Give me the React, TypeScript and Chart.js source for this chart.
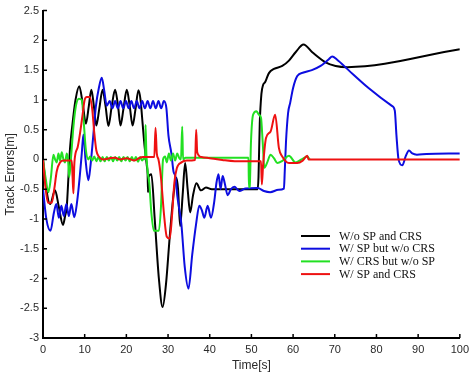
import React, { useEffect, useRef } from "react";
import { Chart, registerables } from "chart.js";

Chart.register(...registerables);

const seriesLabels = ["W/o SP and CRS", "W/ SP but w/o CRS", "W/ CRS but w/o SP", "W/ SP and CRS"];
const seriesColors = ["#000000", "#0d0de0", "#22e022", "#ee1111"];

const xTickValues = [0, 10, 20, 30, 40, 50, 60, 70, 80, 90, 100];
const yTickValues = [-3, -2.5, -2, -1.5, -1, -0.5, 0, 0.5, 1, 1.5, 2, 2.5];

const blackT = [0, 0.8, 1.7, 2.9, 3.8, 4.8, 5.3, 5.7, 6.1, 6.5, 7, 7.8, 8.7, 9.5, 10.3, 11.0, 11.6, 12.2, 12.8, 13.5, 14.3, 15, 15.7, 16.5, 17.3, 18, 18.6, 19.3, 20.1, 20.8, 21.5, 22.2, 22.9, 23.4, 23.9, 24.4, 24.9, 25.1, 25.2, 25.3, 26, 26.8, 27.8, 28.7, 29.5, 30.4, 31.3, 32, 32.4, 32.9, 33.5, 34.1, 34.7, 35.3, 36, 36.8, 37.9, 39.1, 40.5, 42, 51.5, 51.7, 52, 52.4, 52.8, 53.3, 53.6, 54.2, 55.4, 57.4, 59, 60.6, 62.5, 64.6, 67.8, 70.2, 73, 100];
const blackY = [0, -0.5, -0.75, -0.52, -0.8, -1.1, -0.95, -0.8, -0.3, 0.2, 0.55, 1.0, 1.23, 0.95, 0.6, 0.9, 1.17, 0.9, 0.57, 0.85, 1.17, 0.9, 0.56, 0.9, 1.17, 0.9, 0.57, 0.85, 1.17, 0.9, 0.57, 0.85, 1.16, 1.0, 0.6, 0.2, -0.1, -0.25, -0.55, -0.3, -0.25, -1.0, -2.0, -2.48, -2.1, -1.3, -0.6, -0.31, -0.5, -1.12, -0.6, -0.06, -0.5, -0.89, -0.6, -0.4, -0.52, -0.47, -0.5, -0.5, -0.5, -0.3, 0.6, 1.1, 1.25, 1.3, 1.35, 1.45, 1.52, 1.57, 1.66, 1.8, 1.93, 1.8, 1.63, 1.57, 1.55, 1.85];

const blueT = [0, 0.8, 1.8, 2.6, 3.2, 3.8, 4.4, 5, 5.6, 6.2, 6.8, 7.5, 8.2, 8.8, 9.3, 9.7, 10.2, 10.9, 11.4, 12, 12.7, 13.4, 14.1, 14.7, 15.3, 16.0, 16.65, 17.3, 17.95, 18.6, 19.25, 19.9, 20.55, 21.2, 21.85, 22.5, 23.15, 23.8, 24.45, 25.1, 25.75, 26.4, 27.05, 27.7, 28.35, 29.0, 29.6, 30.1, 30.8, 31.3, 31.8, 32.2, 33.2, 34, 34.9, 35.8, 36.7, 37.5, 38.1, 38.7, 39.5, 40.3, 41.1, 41.6, 42.1, 42.6, 43.1, 43.6, 44.3, 45.1, 45.9, 47.1, 48.5, 51.5, 53, 54.5, 56.5, 57.8, 58, 58.3, 58.8, 59.3, 60, 61, 62.5, 64.5, 66.6, 68.5, 69.4, 70.5, 73.3, 78.1, 83.7, 84.4, 84.8, 85.3, 86.2, 87, 87.8, 88.6, 89.7, 92, 100];
const blueY = [-0.5, -1.0, -1.2, -0.9, -0.75, -0.98, -0.78, -0.95, -0.75, -0.95, -0.75, -0.97, -0.7, -0.3, 0.1, 0.42, 0.0, -0.35, -0.1, 0.35, 0.9, 1.2, 1.37, 1.15, 0.9, 0.98, 0.86, 0.98, 0.86, 0.98, 0.86, 0.98, 0.86, 0.98, 0.86, 0.98, 0.86, 0.98, 0.86, 0.98, 0.86, 0.98, 0.86, 0.98, 0.86, 0.98, 0.86, 0.4, 0.1, -0.2, -0.3, -0.6, -1.09, -1.8, -2.17, -1.6, -1.1, -0.78, -0.85, -0.98, -0.78, -0.98, -0.7, -0.4, -0.25, -0.5, -0.28, -0.4, -0.6, -0.5, -0.46, -0.53, -0.49, -0.48, -0.53, -0.55, -0.51, -0.49, -0.2, 0.3, 0.78, 0.95, 1.2, 1.4, 1.46, 1.5, 1.57, 1.68, 1.73, 1.68, 1.5, 1.2, 0.9, 0.82, 0.4, 0.0, -0.1, 0.05, 0.15, 0.1, 0.08, 0.09, 0.1];

const greenT = [0, 0.6, 1.3, 1.9, 2.5, 2.9, 3.3, 3.7, 4.1, 4.5, 4.9, 5.3, 5.7, 6.0, 6.3, 6.8, 7.3, 7.9, 8.6, 9.3, 9.8, 10.3, 10.9, 11.3, 11.8, 12.3, 12.8, 13.3, 13.8, 14.3, 14.8, 15.3, 15.8, 16.3, 16.8, 17.3, 17.8, 18.3, 18.8, 19.3, 19.8, 20.3, 20.8, 21.3, 21.8, 22.3, 22.8, 23.3, 23.8, 24.3, 24.5, 24.6, 24.8, 25.1, 25.5, 26, 26.6, 27.8, 28.3, 28.8, 29.3, 29.7, 30.2, 30.7, 31.2, 31.7, 32.2, 32.7, 33.1, 33.4, 33.6, 34.2, 36, 49.3, 49.4, 49.6, 49.9, 50.4, 51.2, 51.8, 52.3, 52.7, 53.1, 53.8, 54.6, 55.4, 56.2, 57.5, 59, 60.6, 62, 63.4, 64];
const greenY = [0, -0.3, -0.55, -0.3, 0.08, 0.0, -0.05, 0.1, -0.02, 0.12, 0.0, -0.05, 0.1, 0.0, -0.3, 0.1, 0.55, 0.9, 1.02, 1.0, 0.6, 0.15, 0.0, 0.05, -0.02, 0.05, -0.03, 0.04, -0.03, 0.04, -0.03, 0.04, -0.02, 0.04, -0.03, 0.04, -0.02, 0.04, -0.03, 0.04, -0.02, 0.04, -0.03, 0.04, -0.02, 0.04, -0.04, 0.04, -0.02, 0.03, 0.0, 0.58, 0.1, -0.2, -0.4, -0.9, -1.2, -1.2, -0.8, 0.0, 0.05, -0.05, 0.1, -0.02, 0.1, -0.02, 0.1, 0.02, 0.0, 0.55, 0.0, 0.03, 0.03, 0.03, -0.47, -0.45, 0.3, 0.75, 0.81, 0.75, 0.7, 0.3, -0.14, -0.05, 0.08, 0.02, -0.06, -0.02, 0.06, -0.05, 0.0, 0.05, 0.0];

const redT = [0, 0.5, 1.2, 2.1, 2.7, 3.3, 4.1, 5, 6.9, 7.1, 7.3, 7.5, 7.8, 8.3, 8.8, 9.4, 10.0, 10.5, 11.2, 11.8, 12.3, 12.8, 13.4, 14.5, 16, 17.3, 18.5, 20, 22, 23, 24, 26.7, 27.0, 27.3, 27.7, 28.3, 29.0, 29.7, 30.4, 31, 31.5, 32.1, 33.2, 34.5, 36.5, 36.75, 37.0, 38, 40, 43, 46, 52.3, 52.5, 52.8, 53.5, 54.6, 55.7, 56.6, 57.4, 59, 61, 62.3, 63.4, 63.7, 100];
const redY = [0, -0.4, -0.73, -0.73, -0.5, -0.2, -0.05, -0.02, -0.02, -0.3, -0.57, -0.1, 0.1, 0.2, 0.4, 0.7, 1.0, 1.05, 1.05, 0.85, 0.45, 0.15, 0.05, 0.0, 0.02, 0.03, 0.0, 0.02, -0.02, 0.02, 0.04, 0.04, 0.53, 0.1, 0.0, -0.3, -0.9, -1.3, -1.33, -0.9, -0.4, -0.15, -0.05, -0.02, -0.01, 0.5, 0.12, 0.04, 0.02, -0.01, -0.03, -0.03, -0.42, -0.1, 0.36, 0.47, 0.75, 0.19, 0.05, -0.06, -0.06, -0.02, 0.06, 0.0, 0.0];

const seriesT = [blackT, blueT, greenT, redT];
const seriesY = [blackY, blueY, greenY, redY];

const tickFont = { family: 'Arial, "Liberation Sans", sans-serif', size: 11 };
const titleFont = { family: 'Arial, "Liberation Sans", sans-serif', size: 12 };

const inwardTicks = {
  id: "inwardTicks",
  afterDraw(chart: any) {
    const ctx = chart.ctx;
    const xs = chart.scales.x;
    const ys = chart.scales.y;
    const area = chart.chartArea;
    ctx.save();
    ctx.strokeStyle = "#000";
    ctx.lineWidth = 1.5;
    ctx.beginPath();
    for (const v of xTickValues) {
      const px = xs.getPixelForValue(v);
      ctx.moveTo(px, area.bottom);
      ctx.lineTo(px, area.bottom - 4);
    }
    for (const v of yTickValues) {
      const py = ys.getPixelForValue(v);
      ctx.moveTo(area.left, py);
      ctx.lineTo(area.left + 4, py);
    }
    ctx.stroke();
    ctx.restore();
  },
};

const customLegend = {
  id: "customLegend",
  afterDraw(chart: any) {
    const ctx = chart.ctx;
    const x0 = 301;
    const x1 = 330;
    const tx = 339;
    const y0 = 236;
    const dy = 12.7;
    ctx.save();
    ctx.font = '12px "Liberation Serif", "Times New Roman", serif';
    ctx.textBaseline = "middle";
    ctx.textAlign = "left";
    chart.data.datasets.forEach((ds: any, i: number) => {
      const y = y0 + i * dy;
      ctx.strokeStyle = ds.borderColor;
      ctx.lineWidth = 2;
      ctx.beginPath();
      ctx.moveTo(x0, y);
      ctx.lineTo(x1, y);
      ctx.stroke();
      ctx.fillStyle = "#111";
      ctx.fillText(ds.label, tx, y + 0.5);
    });
    ctx.restore();
  },
};

export default function App() {
  const ref = useRef<HTMLCanvasElement | null>(null);
  useEffect(() => {
    if (!ref.current) return;
    const datasets = seriesLabels.map((label, i) => ({
      label,
      data: seriesT[i].map((t, j) => ({ x: t, y: seriesY[i][j] })),
      borderColor: seriesColors[i],
      backgroundColor: seriesColors[i],
      borderWidth: 2,
      pointRadius: 0,
      cubicInterpolationMode: "monotone" as const,
      fill: false,
      order: 4 - i,
    }));
    const chart = new Chart(ref.current, {
      type: "line",
      data: { datasets },
      options: {
        animation: false,
        responsive: false,
        devicePixelRatio: 1,
        layout: { padding: { left: 0, right: 12, top: 9, bottom: 0 } },
        plugins: { legend: { display: false }, tooltip: { enabled: false } },
        scales: {
          x: {
            type: "linear",
            min: 0,
            max: 100,
            afterBuildTicks: (s: any) => {
              s.ticks = xTickValues.map((v) => ({ value: v }));
            },
            afterFit: (s: any) => {
              s.height = 39;
            },
            grid: { display: false, drawTicks: false },
            border: { display: true, color: "#000", width: 2 },
            ticks: { font: tickFont, color: "#2a2a2a", padding: 5, maxRotation: 0, callback: (v: any) => String(v) },
            title: { display: true, text: "Time[s]", font: titleFont, color: "#2a2a2a", padding: { top: 0, bottom: 4 } },
          },
          y: {
            type: "linear",
            min: -3,
            max: 2.5,
            afterBuildTicks: (s: any) => {
              s.ticks = yTickValues.map((v) => ({ value: v }));
            },
            afterFit: (s: any) => {
              s.width = 43;
            },
            grid: { display: false, drawTicks: false },
            border: { display: true, color: "#000", width: 2 },
            ticks: { font: tickFont, color: "#2a2a2a", padding: 4, callback: (v: any) => String(+v) },
            title: { display: true, text: "Track Errors[m]", font: titleFont, color: "#2a2a2a", padding: { top: 3, bottom: 0 } },
          },
        },
      },
      plugins: [inwardTicks, customLegend],
    });
    return () => chart.destroy();
  }, []);
  return (
    <div style={{ position: "absolute", left: 0, top: 0, width: 474, height: 377, background: "#fff" }}>
      <canvas ref={ref} width={474} height={377} style={{ width: 474, height: 377, display: "block" }} />
    </div>
  );
}
